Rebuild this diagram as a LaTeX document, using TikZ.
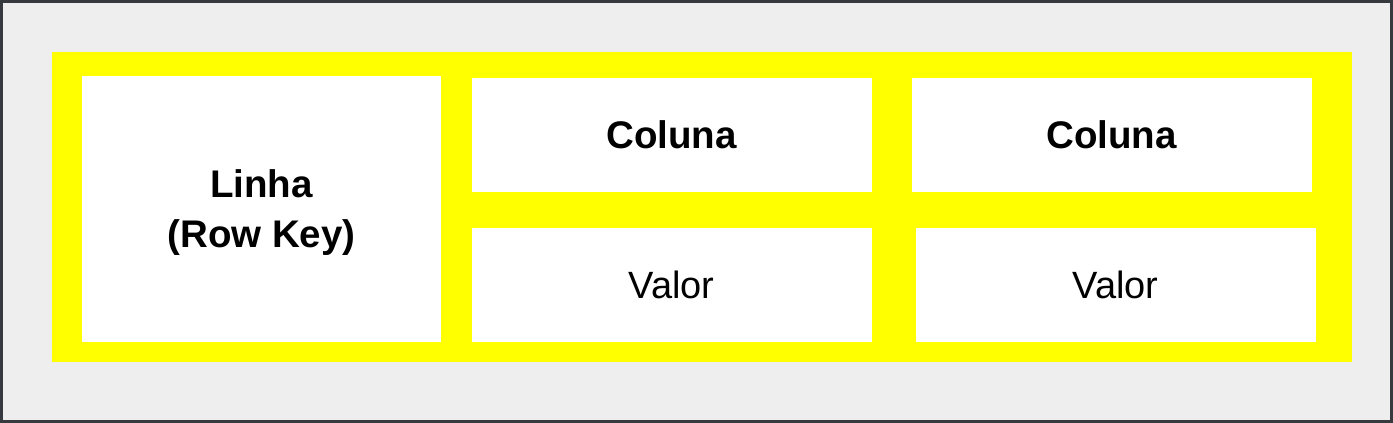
\documentclass[tikz,border=0pt]{standalone}
\usepackage{fontspec}
\setmainfont{Liberation Sans}
\definecolor{bgray}{HTML}{EEEEEE}
\definecolor{bdark}{HTML}{36393D}
\definecolor{ylw}{HTML}{FFFF00}
\begin{document}
\begin{tikzpicture}[x=1pt,y=-1pt,
  cell/.style={fill=white, draw=none, inner sep=0pt, outer sep=0pt, align=center},
  boldtxt/.style={font=\fontsize{38.5}{50}\selectfont\bfseries},
  regtxt/.style={font=\fontsize{38}{50}\selectfont}]
\useasboundingbox (0,0) rectangle (1393,423);
\fill[bdark] (0,0) rectangle (1393,423);
\fill[bgray] (3,3) rectangle (1390,420);
\node[fill=ylw, inner sep=0pt, minimum width=1300pt, minimum height=310pt] (frame) at (701.5,206.5) {};
\node[cell, boldtxt, minimum width=359pt, minimum height=266pt, text depth=0pt] (linha) at (261.5,208.5) {Linha\\(Row Key)};
\node[cell, boldtxt, minimum width=400pt, minimum height=114pt] (col1) at (671.5,134.5) {Coluna};
\node[cell, boldtxt, minimum width=400pt, minimum height=114pt] (col2) at (1111.5,134.5) {Coluna};
\node[cell, regtxt, minimum width=400pt, minimum height=114pt] (val1) at (671.5,284.5) {Valor};
\node[cell, regtxt, minimum width=400pt, minimum height=114pt] (val2) at (1115.5,284.5) {Valor};
\end{tikzpicture}
\end{document}
